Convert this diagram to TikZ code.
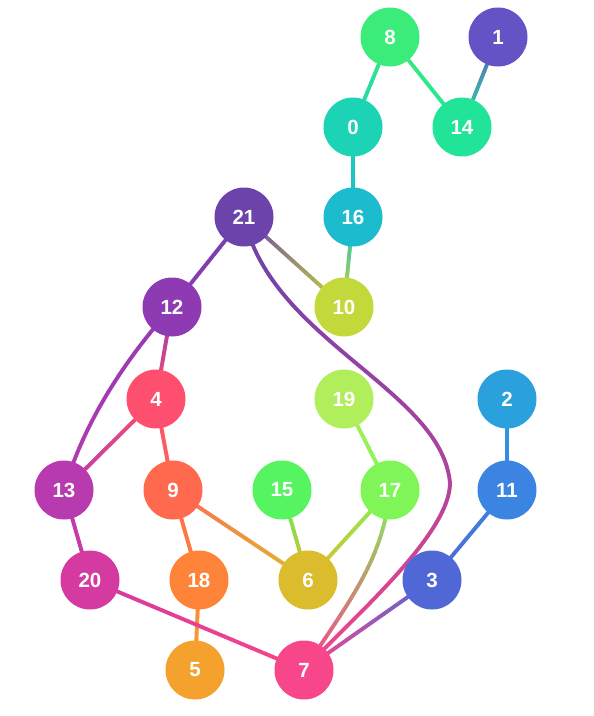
\documentclass[tikz,border=0pt]{standalone}
\usepackage{fontspec}
\setmainfont{Liberation Sans}
\pgfdeclarelayer{bg}
\pgfsetlayers{bg,main}
\definecolor{c0}{HTML}{1DD3B5}
\definecolor{c1}{HTML}{6353C5}
\definecolor{c2}{HTML}{2AA0DC}
\definecolor{c3}{HTML}{4F68D6}
\definecolor{c4}{HTML}{FE4F6E}
\definecolor{c5}{HTML}{F4A12E}
\definecolor{c6}{HTML}{DBBC2D}
\definecolor{c7}{HTML}{F7468A}
\definecolor{c8}{HTML}{3CEC7A}
\definecolor{c9}{HTML}{FF6A4F}
\definecolor{c10}{HTML}{C3D93B}
\definecolor{c11}{HTML}{3B84E1}
\definecolor{c12}{HTML}{8E3BB3}
\definecolor{c13}{HTML}{B73AAF}
\definecolor{c14}{HTML}{22E499}
\definecolor{c15}{HTML}{57F461}
\definecolor{c16}{HTML}{1DBBCE}
\definecolor{c17}{HTML}{80F558}
\definecolor{c18}{HTML}{FE843A}
\definecolor{c19}{HTML}{B0EE5B}
\definecolor{c20}{HTML}{D43A9F}
\definecolor{c21}{HTML}{6C42AB}
\colorlet{cmid}{c21!50!c7}
\tikzset{vtx/.style={circle,minimum size=59pt,inner sep=0pt,text=white,
  font=\bfseries\fontsize{20.5}{20.5}\selectfont}}
% gradient cubic: #1..#4 pgf points, #5 start colour, #6 end colour
\newcommand\gcurve[6]{%
  \foreach \i in {0,...,23}{%
    \pgfmathsetmacro\gs{\i/24}%
    \pgfmathsetmacro\ge{(\i+1)/24}%
    \pgfmathtruncatemacro\gp{100-(\i+0.5)*100/24}%
    \pgfsetstrokecolor{#5!\gp!#6}%
    \pgfpathcurvebetweentime{\gs}{\ge}{#1}{#2}{#3}{#4}%
    \pgfusepath{stroke}%
  }}
\newcommand\gline[4]{%
  \gcurve{\pgfpointanchor{#1}{center}}%
    {\pgfpointlineattime{0.3333}{\pgfpointanchor{#1}{center}}{\pgfpointanchor{#2}{center}}}%
    {\pgfpointlineattime{0.6667}{\pgfpointanchor{#1}{center}}{\pgfpointanchor{#2}{center}}}%
    {\pgfpointanchor{#2}{center}}{#3}{#4}}
\begin{document}
\begin{tikzpicture}[x=1pt,y=-1pt]
\useasboundingbox (0,0) rectangle (594,716);
\node[vtx,fill=c8]  (n8)  at (390,37)  {8};
\node[vtx,fill=c1]  (n1)  at (498,37)  {1};
\node[vtx,fill=c0]  (n0)  at (353,127) {0};
\node[vtx,fill=c14] (n14) at (462,127) {14};
\node[vtx,fill=c21] (n21) at (244,217) {21};
\node[vtx,fill=c16] (n16) at (353,217) {16};
\node[vtx,fill=c12] (n12) at (172,307) {12};
\node[vtx,fill=c10] (n10) at (344,307) {10};
\node[vtx,fill=c4]  (n4)  at (156,399) {4};
\node[vtx,fill=c19] (n19) at (344,399) {19};
\node[vtx,fill=c2]  (n2)  at (507,399) {2};
\node[vtx,fill=c13] (n13) at (64,490)  {13};
\node[vtx,fill=c9]  (n9)  at (173,490) {9};
\node[vtx,fill=c15] (n15) at (282,490) {15};
\node[vtx,fill=c17] (n17) at (390,490) {17};
\node[vtx,fill=c11] (n11) at (507,490) {11};
\node[vtx,fill=c20] (n20) at (90,580)  {20};
\node[vtx,fill=c18] (n18) at (199,580) {18};
\node[vtx,fill=c6]  (n6)  at (308,580) {6};
\node[vtx,fill=c3]  (n3)  at (432,580) {3};
\node[vtx,fill=c5]  (n5)  at (195,670) {5};
\node[vtx,fill=c7]  (n7)  at (304,670) {7};
\coordinate (m7) at (450,483);
\begin{pgfonlayer}{bg}
\pgfsetlinewidth{3.9pt}
\pgfsetroundcap
\gline{n8}{n0}{c8}{c0}
\gline{n8}{n14}{c8}{c14}
\gline{n1}{n14}{c1}{c14}
\gline{n0}{n16}{c0}{c16}
\gline{n16}{n10}{c16}{c10}
\gline{n21}{n10}{c21}{c10}
\gline{n21}{n12}{c21}{c12}
\gline{n12}{n4}{c12}{c4}
\gline{n4}{n13}{c4}{c13}
\gline{n4}{n9}{c4}{c9}
\gline{n9}{n18}{c9}{c18}
\gline{n9}{n6}{c9}{c6}
\gline{n18}{n5}{c18}{c5}
\gline{n15}{n6}{c15}{c6}
\gline{n19}{n17}{c19}{c17}
\gline{n17}{n6}{c17}{c6}
\gline{n2}{n11}{c2}{c11}
\gline{n11}{n3}{c11}{c3}
\gline{n3}{n7}{c3}{c7}
\gline{n20}{n13}{c20}{c13}
\gline{n20}{n7}{c20}{c7}
% curved links
\gcurve{\pgfpointanchor{n12}{center}}{\pgfpointxy{125}{360}}{\pgfpointxy{85}{420}}{\pgfpointanchor{n13}{center}}{c12}{c13}
\gcurve{\pgfpointanchor{n17}{center}}{\pgfpointxy{383}{560}}{\pgfpointxy{350}{600}}{\pgfpointanchor{n7}{center}}{c17}{c7}
\gcurve{\pgfpointanchor{n21}{center}}{\pgfpointxy{270}{340}}{\pgfpointxy{442}{390}}{\pgfpointanchor{m7}{center}}{c21}{cmid}
\gcurve{\pgfpointanchor{m7}{center}}{\pgfpointxy{450}{535}}{\pgfpointxy{350}{620}}{\pgfpointanchor{n7}{center}}{cmid}{c7}
\end{pgfonlayer}
\end{tikzpicture}
\end{document}
